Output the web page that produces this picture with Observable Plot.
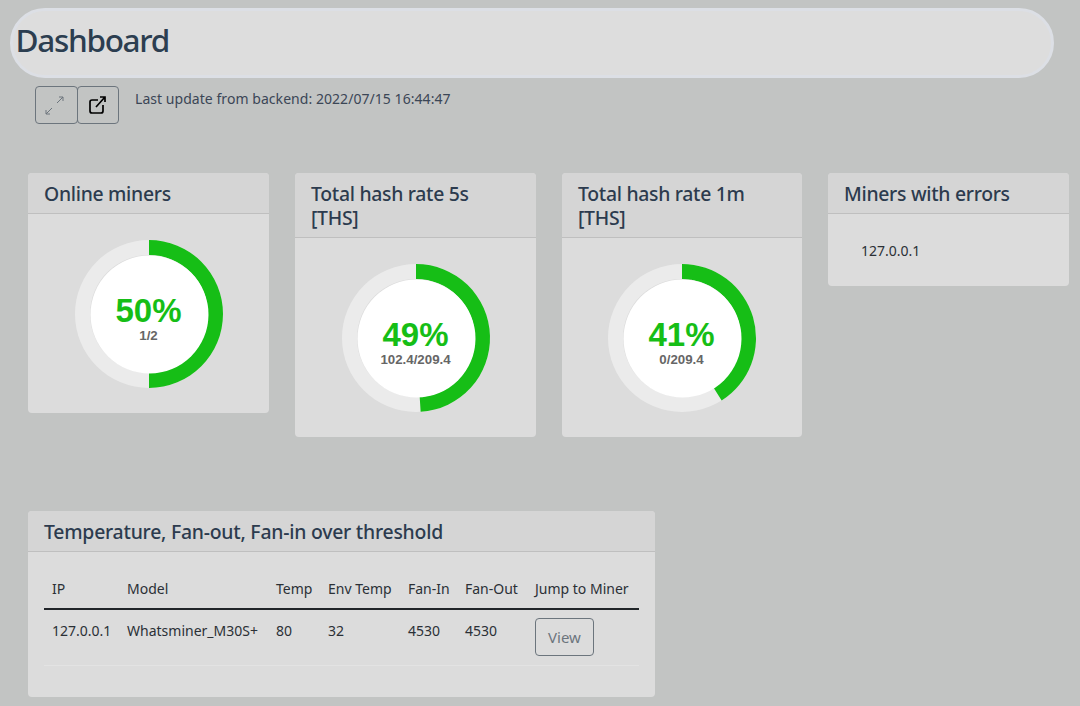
<!DOCTYPE html>
<html>
<head>
<meta charset="utf-8">
<script src="https://cdn.jsdelivr.net/npm/d3@7"></script>
<script src="https://cdn.jsdelivr.net/npm/@observablehq/plot@0.6"></script>
<style>
  html, body { margin: 0; padding: 0; }
  body { width: 1080px; height: 706px; background: #c2c4c3; position: relative; overflow: hidden;
         font-family: "Noto Sans", sans-serif; color: #2c3b4e; }
  .abs { position: absolute; white-space: nowrap; }
  .bar { left: 10px; top: 8px; width: 1038px; height: 64px; background: #dddddd; border: 3px solid #dcdfe5; border-radius: 35px; }
  .card { background: #dcdcdc; border-radius: 4px; }
  .head { position: absolute; left: 0; top: 0; right: 0; background: #d5d5d5; border-bottom: 1px solid #bfbfbf; border-radius: 4px 4px 0 0; }
  .ttl { font-size: 19.4px; font-weight: 500; line-height: 24px; letter-spacing: -0.3px; color: #2c3b4e; }
  .btn { border: 1px solid #6c757d; border-radius: 4px; box-sizing: border-box; }
  .cell { font-size: 14px; color: #2b3036; line-height: 20px; }
  svg.gauge { position: absolute; background: transparent; }
</style>
</head>
<body>
<script>
// valori
const gaugeTitles = [["Online miners"], ["Total hash rate 5s", "[THS]"], ["Total hash rate 1m", "[THS]"]]
const gaugePercent = [50, 49, 41]
const gaugeLabels = ["1/2", "102.4/209.4", "0/209.4"]
const errorMiners = ["127.0.0.1"]
const tableColumns = ["IP", "Model", "Temp", "Env Temp", "Fan-In", "Fan-Out", "Jump to Miner"]
const tableRow = ["127.0.0.1", "Whatsminer_M30S+", "80", "32", "4530", "4530"]
const lastUpdate = "Last update from backend: 2022/07/15 16:44:47"

const green = "#16be16"
const page = d3.select("body")

function put(x, y, cls, txt) {
  return page.append("div").attr("class", "abs " + cls)
    .style("left", x + "px").style("top", y + "px").text(txt ?? "")
}

function card(x, y, w, h, headH, lines) {
  const c = put(x, y, "card").style("width", w + "px").style("height", h + "px")
  c.append("div").attr("class", "head").style("height", headH + "px")
  return put(x + 16, y + 9, "ttl").html(lines.join("<br>"))
}

// barra titolo
put(10, 8, "bar")
put(15.5, 18, "", "Dashboard").style("font-size", "31.5px").style("font-weight", 500)
  .style("letter-spacing", "-1.3px").style("line-height", "44px").style("color", "#2c3e50")

// bottoni
put(35, 86, "btn").style("width", "43px").style("height", "38px")
  .html('<svg width="41" height="36" fill="none" stroke="#6c757d" stroke-width="1"><path d="M16 21l-6 6M10 23v4h4M21 16l6-6M23 10h4v4"/></svg>')
put(77, 86, "btn").style("width", "42px").style("height", "38px")
  .html('<svg width="40" height="36" fill="none" stroke="#000" stroke-width="1.7"><path d="M20 13h-6a2 2 0 0 0-2 2v9a2 2 0 0 0 2 2h9a2 2 0 0 0 2-2v-6M18 20l9-10M22 10h5v5"/></svg>')
put(135, 89, "", lastUpdate).style("font-size", "14px").style("letter-spacing", "0.05px")
  .style("line-height", "20px").style("color", "#3b4656")

// arco disegnato dalla scala x (percentuale -> angolo)
function arcRender(inner, outer, color) {
  return (index, scales, values, dims) => {
    const arc = d3.arc().innerRadius(inner).outerRadius(outer)
    const g = d3.create("svg:g").attr("transform", `translate(${dims.width / 2},${dims.height / 2})`)
    for (const i of index) {
      g.append("path").attr("d", arc({startAngle: values.x1[i], endAngle: values.x2[i]}))
        .attr("fill", color)
    }
    return g.node()
  }
}

function gauge(pct, label) {
  return Plot.plot({
    width: 160,
    height: 160,
    margin: 0,
    x: {axis: null, domain: [0, 100], range: [0, 2 * Math.PI]},
    y: {axis: null},
    style: {background: "transparent", fontFamily: "'Liberation Sans', Arial, sans-serif"},
    marks: [
      Plot.barX([0], {x1: () => 0, x2: () => 100, render: arcRender(59, 74, "#ebebeb")}),
      Plot.barX([pct], {x1: () => 0, x2: d => d, render: arcRender(59, 74, green)}),
      Plot.dot([pct], {frameAnchor: "middle", r: 59, fill: "white"}),
      Plot.text([pct], {text: d => d + "%", frameAnchor: "middle", dx: -1, dy: -3, fill: green, fontSize: 33, fontWeight: "bold"}),
      Plot.text([label], {text: d => d, frameAnchor: "middle", dx: -1, dy: 21.5, fill: "#666666", fontSize: 13.3, fontWeight: "bold"}),
    ],
  })
}

const cardX = [28, 295, 562]
const cardW = [241, 241, 240]
const cardH = [240, 264, 264]
const headH = [40, 64, 64]
const gaugeX = [148.5, 415.5, 681.5]
gaugeTitles.forEach((t, i) => {
  card(cardX[i], 173, cardW[i], cardH[i], headH[i], t)
  const g = gauge(gaugePercent[i], gaugeLabels[i])
  d3.select(g).classed("gauge", true)
    .style("left", gaugeX[i] - 80 + "px").style("top", 173 + headH[i] + 101 - 80 + "px")
  page.append(() => g)
})

// carta errori
card(828, 173, 241, 113, 40, ["Miners with errors"])
errorMiners.forEach((m, i) => put(861, 241 + i * 20, "cell", m))

// tabella
card(28, 511, 627, 186, 40, ["Temperature, Fan-out, Fan-in over threshold"]).style("letter-spacing", "-0.23px")
const colX = [52, 127, 276, 328, 408, 465, 535]
tableColumns.forEach((t, i) => put(colX[i], 579, "cell", t))
tableRow.forEach((t, i) => put(colX[i], 621, "cell", t))
put(44, 608, "").style("width", "595px").style("height", "2px").style("background", "#212529")
put(44, 665, "").style("width", "595px").style("height", "1px").style("background", "#e3e3e3")
put(535, 618, "btn", "View").style("width", "59px").style("height", "38px")
  .style("font-size", "15px").style("line-height", "36px").style("text-align", "center").style("color", "#6c757d")
</script>
</body>
</html>
